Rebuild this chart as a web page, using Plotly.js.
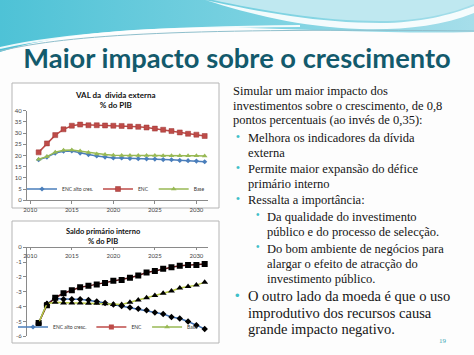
<!DOCTYPE html>
<html><head><meta charset="utf-8">
<script src="https://cdn.plot.ly/plotly-3.0.1.min.js"></script>
<style>
html,body{margin:0;padding:0;background:#fdfdfd;}
#wrap{position:relative;width:474px;height:355px;overflow:hidden;background:#fdfdfd;}
#hdr{position:absolute;left:0;top:0;}
#plot{position:absolute;left:0;top:0;width:474px;height:355px;}
.t{position:absolute;font-family:"Liberation Serif",serif;color:#151515;white-space:nowrap;}
.b{position:absolute;color:#3fc0c9;font-family:"Liberation Sans",sans-serif;}
#title{position:absolute;left:0;width:474px;top:41px;text-align:center;font-family:Lato,"Open Sans",sans-serif;font-weight:bold;font-size:27.3px;color:#135a6c;white-space:nowrap;}
</style></head>
<body>
<div id="wrap">
<svg id="hdr" width="474" height="80">
 <defs>
  <linearGradient id="g1" x1="0" y1="0" x2="1" y2="0">
   <stop offset="0" stop-color="#4ec2d6"/><stop offset="0.6" stop-color="#7fd3e2"/><stop offset="1" stop-color="#a6deea"/>
  </linearGradient>
 </defs>
 <path d="M0,0 H474 V32 C400,34 330,30 250,28 C150,26 60,32 0,52 Z" fill="url(#g1)"/>
 <path d="M213,0 H474 V4 C450,14 420,21 380,21 C320,21 260,10 213,0 Z" fill="#bfe8f0"/>
 <path d="M205,0 C260,12 320,23 380,23 C420,23 450,15 474,6 V13 C440,27 400,30 360,29 C300,27 250,14 205,0 Z" fill="#ffffff" opacity="0.9"/>
 <path d="M0,51 C70,34 190,28 474,31" stroke="#8fbfcc" stroke-width="1" fill="none"/>
 <path d="M0,48 C60,34 160,27 300,26" stroke="#ffffff" stroke-width="2" fill="none" opacity="0.9"/>
</svg>
<div id="title">Maior impacto sobre o crescimento</div>
<div id="plot"></div>

<div class="t" style="left:233px;top:84px;font-size:12.5px;line-height:14.5px;">Simular um maior impacto dos<br>investimentos sobre o crescimento, de 0,8<br>pontos percentuais (ao invés de 0,35):</div>
<div class="b" style="left:236px;top:130px;font-size:11px;">•</div>
<div class="t" style="left:248px;top:131px;font-size:12.5px;line-height:14.5px;">Melhora os indicadores da dívida<br>externa</div>
<div class="b" style="left:236px;top:161px;font-size:11px;">•</div>
<div class="t" style="left:248px;top:162px;font-size:12.5px;line-height:14.5px;">Permite maior expansão do défice<br>primário interno</div>
<div class="b" style="left:236px;top:192px;font-size:11px;">•</div>
<div class="t" style="left:248px;top:193px;font-size:12.5px;line-height:14.5px;">Ressalta a importância:</div>
<div class="b" style="left:256px;top:209px;font-size:10px;">•</div>
<div class="t" style="left:267px;top:210px;font-size:12.5px;line-height:14.8px;">Da qualidade do investimento<br>público e do processo de selecção.</div>
<div class="b" style="left:256px;top:241px;font-size:10px;">•</div>
<div class="t" style="left:267px;top:242px;font-size:12.5px;line-height:14.8px;">Do bom ambiente de negócios para<br>alargar o efeito de atracção do<br>investimento público.</div>
<div class="b" style="left:235px;top:288px;font-size:13px;">•</div>
<div class="t" style="left:248px;top:288px;font-size:14.5px;line-height:16.5px;">O outro lado da moeda é que o uso<br>improdutivo dos recursos causa<br>grande impacto negativo.</div>
<div class="t" style="left:439px;top:337px;font-size:7px;color:#3aa7b5;">19</div>
</div>

<script>
const years = [2011,2012,2013,2014,2015,2016,2017,2018,2019,2020,2021,2022,2023,2024,2025,2026,2027,2028,2029,2030,2031];
const seriesNames = ["ENC alto cres.", "ENC", "Base"];
const seriesNames2 = ["ENC alto cresc.", "ENC", "Base"];
const yTicks2 = [0, -1, -2, -3, -4, -5, -6];
const yTickText2 = ["0", "-1", "-2", "-3", "-4", "-5", "-6"];
// VAL da dívida externa, % do PIB
const valAlto = [18.1,19.3,21.1,21.9,22.0,21.1,20.4,19.8,19.3,18.9,18.9,18.7,18.6,18.5,18.4,18.2,18.1,17.8,17.7,17.5,17.2];
const valEnc  = [21.4,25.4,29.1,31.7,33.3,33.8,33.5,33.5,33.4,33.3,33.2,33.0,32.8,32.5,32.0,31.5,30.9,30.3,29.7,29.3,28.7];
const valBase = [18.3,19.5,21.5,22.3,22.5,22.0,21.3,20.7,20.4,20.1,20.0,20.0,20.0,20.0,20.0,19.9,19.9,19.9,19.9,19.9,19.8];
// Saldo primário interno, % do PIB
const saldoAlto = [-5.1,-3.8,-3.45,-3.5,-3.5,-3.5,-3.55,-3.65,-3.75,-3.85,-3.95,-4.05,-4.15,-4.25,-4.4,-4.5,-4.7,-4.8,-5.0,-5.25,-5.5];
const saldoEnc  = [-5.1,-3.9,-3.4,-3.1,-2.9,-2.7,-2.6,-2.5,-2.4,-2.25,-2.2,-2.05,-1.9,-1.7,-1.6,-1.45,-1.35,-1.25,-1.2,-1.2,-1.12];
const saldoBase = [-5.1,-3.8,-3.7,-3.75,-3.75,-3.75,-3.78,-3.78,-3.8,-3.85,-3.85,-3.7,-3.55,-3.4,-3.25,-3.1,-2.95,-2.75,-2.65,-2.55,-2.35];

const W = 474, H = 355;
const px = x => x / W, py = y => 1 - y / H;
const cBlue = '#4a7ebb', cRed = '#be4b48', cGreen = '#98b954';
const font = 'Lato, "Open Sans", sans-serif';

const traces = [
 {x: years, y: valAlto, name: seriesNames[0], mode: 'lines+markers', line: {color: cBlue, width: 1.5}, marker: {symbol: 'diamond', size: 4, color: cBlue}, legend: 'legend'},
 {x: years, y: valEnc, name: seriesNames[1], mode: 'lines+markers', line: {color: cRed, width: 1.5}, marker: {symbol: 'square', size: 5, color: cRed, line: {color: '#9c3634', width: 0.5}}, legend: 'legend'},
 {x: years, y: valBase, name: seriesNames[2], mode: 'lines+markers', line: {color: cGreen, width: 1.5}, marker: {symbol: 'triangle-up', size: 5, color: cGreen}, legend: 'legend'},
 {x: years, y: saldoAlto, xaxis: 'x2', yaxis: 'y2', mode: 'lines+markers', showlegend: false, line: {color: '#3f6fb0', width: 1.5}, marker: {symbol: 'diamond', size: 5, color: '#000'}},
 {x: years, y: saldoEnc, xaxis: 'x2', yaxis: 'y2', mode: 'lines+markers', showlegend: false, line: {color: '#5a1414', width: 1.5}, marker: {symbol: 'square', size: 6, color: '#000'}},
 {x: years, y: saldoBase, xaxis: 'x2', yaxis: 'y2', mode: 'lines+markers', showlegend: false, line: {color: '#b9c944', width: 1.5}, marker: {symbol: 'triangle-up', size: 6, color: '#000'}},
 {x: [null], y: [null], xaxis: 'x2', yaxis: 'y2', name: seriesNames2[0], mode: 'lines+markers', line: {color: cBlue, width: 1.5}, marker: {symbol: 'diamond', size: 4, color: cBlue}, legend: 'legend2'},
 {x: [null], y: [null], xaxis: 'x2', yaxis: 'y2', name: seriesNames2[1], mode: 'lines+markers', line: {color: cRed, width: 1.5}, marker: {symbol: 'square', size: 5, color: cRed}, legend: 'legend2'},
 {x: [null], y: [null], xaxis: 'x2', yaxis: 'y2', name: seriesNames2[2], mode: 'lines+markers', line: {color: cGreen, width: 1.5}, marker: {symbol: 'triangle-up', size: 5, color: cGreen}, legend: 'legend2'}
];

const tickFont = {family: font, size: 6, color: '#444'};
const xr = [2009.6, 2031.4];
const legendBase = {orientation: 'h', xanchor: 'center', yanchor: 'middle', font: {family: font, size: 5, color: '#333'}, bgcolor: 'rgba(0,0,0,0)', itemwidth: 30, tracegroupgap: 0};
const layout = {
 width: W, height: H,
 margin: {l: 0, r: 0, t: 0, b: 0},
 paper_bgcolor: 'rgba(0,0,0,0)', plot_bgcolor: 'rgba(0,0,0,0)',
 font: {family: font},
 xaxis: {domain: [px(27), px(208)], range: xr, tick0: 2010, dtick: 5, tickformat: 'd', showgrid: false, zeroline: false, showline: true, linecolor: '#8a8a8a', linewidth: 1, ticks: 'outside', ticklen: 3, tickcolor: '#8a8a8a', tickfont: tickFont, anchor: 'y'},
 yaxis: {domain: [py(200.3), py(110.7)], range: [0, 40], dtick: 5, showgrid: false, zeroline: false, showline: true, linecolor: '#8a8a8a', linewidth: 1, ticks: 'outside', ticklen: 3, tickcolor: '#8a8a8a', tickfont: tickFont, anchor: 'x'},
 xaxis2: {domain: [px(27), px(208)], range: xr, tick0: 2010, dtick: 5, tickformat: 'd', side: 'bottom', anchor: 'free', position: py(247.3), showgrid: false, zeroline: false, showline: true, linecolor: '#8a8a8a', linewidth: 1, ticks: 'outside', ticklen: 2, tickcolor: '#8a8a8a', tickfont: tickFont},
 yaxis2: {domain: [py(336.3), py(247.3)], range: [-6, 0], tickvals: yTicks2, ticktext: yTickText2, showgrid: false, zeroline: false, showline: true, linecolor: '#8a8a8a', linewidth: 1, ticks: 'outside', ticklen: 3, tickcolor: '#8a8a8a', tickfont: tickFont, anchor: 'x2'},
 legend: Object.assign({}, legendBase, {x: px(116), y: py(189)}),
 legend2: Object.assign({}, legendBase, {x: px(108), y: py(327)}),
 shapes: [
  {type: 'rect', xref: 'paper', yref: 'paper', x0: px(12), x1: px(219), y0: py(208), y1: py(83), line: {color: '#b5b5b5', width: 1}, fillcolor: '#ffffff', layer: 'below'},
  {type: 'rect', xref: 'paper', yref: 'paper', x0: px(12), x1: px(219), y0: py(343), y1: py(221), line: {color: '#b5b5b5', width: 1}, fillcolor: '#ffffff', layer: 'below'}
 ],
 annotations: [
  {xref: 'paper', yref: 'paper', x: px(115), y: py(100), xanchor: 'center', yanchor: 'middle', showarrow: false, text: '<b>VAL da  divida externa<br>% do PIB</b>', font: {family: font, size: 8, color: '#111'}},
  {xref: 'paper', yref: 'paper', x: px(103), y: py(236), xanchor: 'center', yanchor: 'middle', showarrow: false, text: '<b>Saldo primário interno<br>% do PIB</b>', font: {family: font, size: 7.5, color: '#111'}}
 ]
};
Plotly.newPlot('plot', traces, layout, {displayModeBar: false, staticPlot: true});
</script>
</body></html>
